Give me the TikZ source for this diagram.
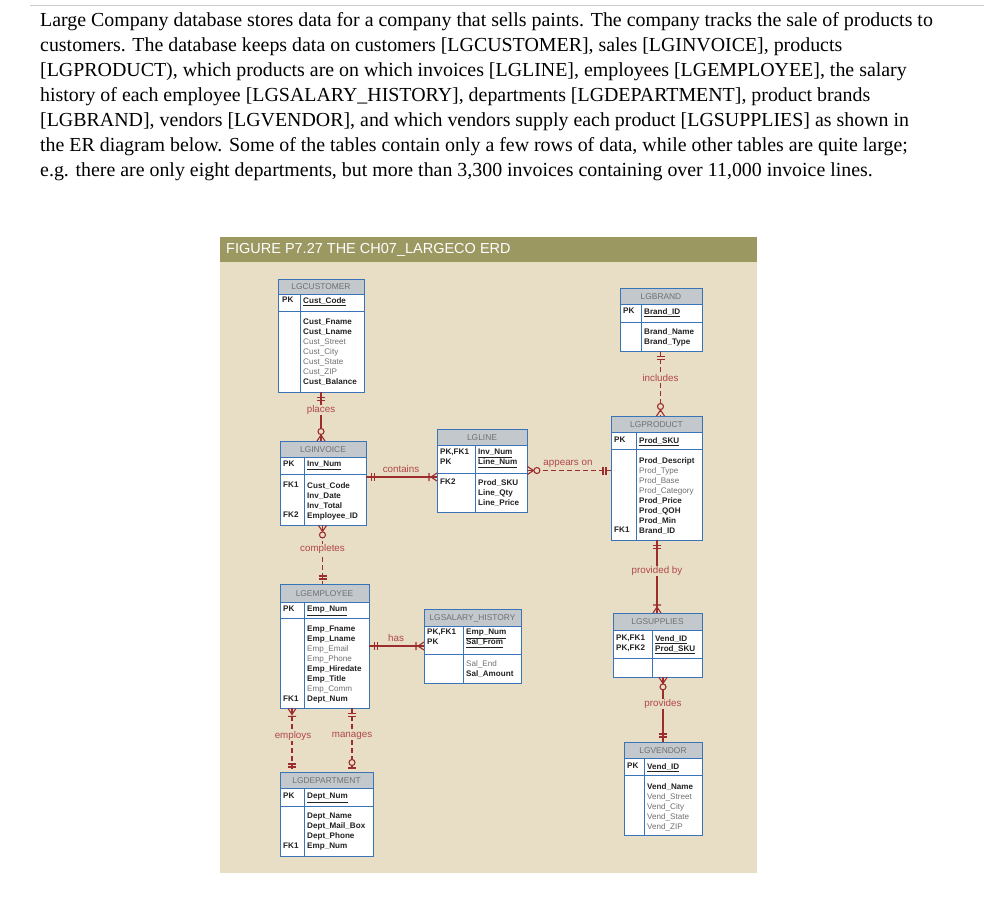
\documentclass[tikz,border=0pt]{standalone}
\usepackage{fontspec}
\setmainfont{Liberation Serif}
\setsansfont{Liberation Sans}
\begin{document}
\definecolor{bg}{HTML}{E8DDC5}
\definecolor{hbar}{HTML}{9C9862}
\definecolor{tblue}{HTML}{3A74B8}
\definecolor{thdr}{HTML}{C3C8CC}
\definecolor{rel}{HTML}{9B2D2D}
\definecolor{rlab}{HTML}{B0484A}
\definecolor{gry}{HTML}{707070}
\definecolor{txt}{HTML}{222222}
\begin{tikzpicture}[x=1pt,y=-1pt,
  para/.style={anchor=base west,inner sep=0,font=\fontsize{19.9}{22}\selectfont},
  cell/.style={anchor=north west,inner sep=0,align=left,text=txt,font=\sffamily\bfseries\fontsize{8.1}{10}\selectfont},
  ttl/.style={inner sep=0,text=gry,font=\sffamily\fontsize{8.4}{10}\selectfont},
  rl/.style={draw=rel,line width=1.1pt},
  dsh/.style={rl,dash pattern=on 5pt off 3pt},
  lab/.style={inner sep=0.6pt,fill=bg,text=rlab,font=\sffamily\fontsize{9.8}{11}\selectfont},
  mone/.pic={\draw[rl] (5,-4)--(5,4) (8,-4)--(8,4);},
  mmany/.pic={\draw[rl] (0,-4)--(6,0)--(0,4) (8,-4)--(8,4);},
  omany/.pic={\draw[rl] (0,-4)--(6,0)--(0,4); \draw[rl,fill=bg] (9.5,0) circle (3);},
  oone/.pic={\draw[rl] (4,-4)--(4,4); \draw[rl,fill=bg] (9.5,0) circle (3);}
]
\useasboundingbox (0,0) rectangle (984,898);
\fill[white] (0,0) rectangle (984,898);
\draw[gray!40] (30,5)--(984,5);
\node[para] (p1) at (40,26) {Large Company database stores data for a company that sells paints. The company tracks the sale of products to};
\node[para] (p2) at (40,51) {customers. The database keeps data on customers [LGCUSTOMER], sales [LGINVOICE], products};
\node[para] (p3) at (40,76) {[LGPRODUCT), which products are on which invoices [LGLINE], employees [LGEMPLOYEE], the salary};
\node[para] (p4) at (40,101) {history of each employee [LGSALARY\_HISTORY], departments [LGDEPARTMENT], product brands};
\node[para] (p5) at (40,126) {[LGBRAND], vendors [LGVENDOR], and which vendors supply each product [LGSUPPLIES] as shown in};
\node[para] (p6) at (40,151) {the ER diagram below. Some of the tables contain only a few rows of data, while other tables are quite large;};
\node[para] (p7) at (40,176) {e.g. there are only eight departments, but more than 3,300 invoices containing over 11,000 invoice lines.};
% panel
\fill[hbar] (220,237) rectangle (757,262);
\fill[bg] (220,262) rectangle (757,873);
\node[anchor=west,inner sep=0,text=white,font=\sffamily\fontsize{14.5}{16}\selectfont] (fig) at (226,249.5) {FIGURE P7.27 THE CH07\_LARGECO ERD};
% table macro: name,L,R,T,HB,PB,B,D,title
\newcommand\mytable[9]{%
  \fill[white] (#2,#4) rectangle (#3,#7);
  \fill[thdr] (#2,#4) rectangle (#3,#5);
  \node[inner sep=0,anchor=north west,minimum width={(#3-#2)*1pt},minimum height={(#7-#4)*1pt}] (#1) at (#2,#4) {};
  \draw[tblue,line width=1pt] (#2,#4) rectangle (#3,#7) (#2,#5)--(#3,#5) (#2,#6)--(#3,#6) (#8,#5)--(#8,#7);
  \node[ttl] (#1-t) at ({(#2+#3)/2},{(#4+#5)/2+0.5}) {#9};}
\newcommand\g[1]{{\mdseries\color{gry}#1}}
\newcommand\ul[1]{\underline{#1}}
\mytable{cust}{278}{364}{279}{294}{311}{392}{300}{LGCUSTOMER}
\node[cell] at (282,297) {PK};
\node[cell] at (303,297) {\ul{Cust\_Code}};
\node[cell] at (303,319) {Cust\_Fname\\Cust\_Lname\\\g{Cust\_Street}\\\g{Cust\_City}\\\g{Cust\_State}\\\g{Cust\_ZIP}\\Cust\_Balance};
\mytable{inv}{280}{366}{441}{457}{474}{525}{304}{LGINVOICE}
\node[cell] at (283,461) {PK};
\node[cell] at (307,461) {\ul{Inv\_Num}};
\node[cell] at (283,482) {FK1\\\\\\FK2};
\node[cell] at (307,482) {Cust\_Code\\Inv\_Date\\Inv\_Total\\Employee\_ID};
\mytable{line}{437}{527}{429}{445}{473}{512}{475}{LGLINE}
\node[cell] at (440,449) {PK,FK1\\PK};
\node[cell] at (478,449) {\ul{Inv\_Num}\\\ul{Line\_Num}};
\node[cell] at (440,479) {FK2};
\node[cell] at (478,479) {Prod\_SKU\\Line\_Qty\\Line\_Price};
\mytable{brand}{620}{702}{288}{304}{322}{351}{641}{LGBRAND}
\node[cell] at (623,308) {PK};
\node[cell] at (644,308) {\ul{Brand\_ID}};
\node[cell] at (644,328) {Brand\_Name\\Brand\_Type};
\mytable{prod}{611}{702}{416}{432}{449}{540}{636}{LGPRODUCT}
\node[cell] at (614,437) {PK};
\node[cell] at (639,437) {\ul{Prod\_SKU}};
\node[cell] at (614,527) {FK1};
\node[cell] at (639,457) {Prod\_Descript\\\g{Prod\_Type}\\\g{Prod\_Base}\\\g{Prod\_Category}\\Prod\_Price\\Prod\_QOH\\Prod\_Min\\Brand\_ID};
\mytable{emp}{280}{369}{584}{602}{618}{708}{304}{LGEMPLOYEE}
\node[cell] at (283,606) {PK};
\node[cell] at (307,606) {\ul{Emp\_Num}};
\node[cell] at (283,696) {FK1};
\node[cell] at (307,626) {Emp\_Fname\\Emp\_Lname\\\g{Emp\_Email}\\\g{Emp\_Phone}\\Emp\_Hiredate\\Emp\_Title\\\g{Emp\_Comm}\\Dept\_Num};
\mytable{sal}{424}{521}{609}{626}{654}{683}{463}{LGSALARY\_HISTORY}
\node[cell] at (427,629) {PK,FK1\\PK};
\node[cell] at (466,629) {\ul{Emp\_Num}\\\ul{Sal\_From}};
\node[cell] at (466,660) {\g{Sal\_End}\\Sal\_Amount};
\mytable{dept}{280}{373}{772}{788}{806}{856}{304}{LGDEPARTMENT}
\node[cell] at (283,793) {PK};
\node[cell] at (307,793) {\ul{Dept\_Num}};
\node[cell] at (283,843) {FK1};
\node[cell] at (307,813) {Dept\_Name\\Dept\_Mail\_Box\\Dept\_Phone\\Emp\_Num};
\mytable{sup}{613}{702}{613}{630}{658}{677}{652}{LGSUPPLIES}
\node[cell] at (616,635) {PK,FK1\\PK,FK2};
\node[cell] at (655,635) {\ul{Vend\_ID}\\\ul{Prod\_SKU}};
\mytable{vend}{624}{702}{742}{758}{775}{835}{644}{LGVENDOR}
\node[cell] at (627,763) {PK};
\node[cell] at (647,763) {\ul{Vend\_ID}};
\node[cell] at (647,783) {Vend\_Name\\\g{Vend\_Street}\\\g{Vend\_City}\\\g{Vend\_State}\\\g{Vend\_ZIP}};
% relationships
\draw[rl] (cust.south -| 321,0) -- (inv.north -| 321,0);
\node[lab] (lplaces) at (321,410) {places};
\pic[rotate=-90] at (cust.south -| 321,0) {mone};
\pic[rotate=90] at (inv.north -| 321,0) {omany};

\draw[rl] (inv.east |- 0,477) -- (line.west |- 0,477);
\node[lab,fill=none] (lcont) at (401,469) {contains};
\pic at (inv.east |- 0,477) {mone};
\pic[rotate=180] at (line.west |- 0,477) {mmany};

\draw[dsh] (line.east |- 0,470.5) -- (prod.west |- 0,470.5);
\node[lab] (lapp) at (568,464) {appears on};
\pic at (line.east |- 0,470.5) {omany};
\pic[rotate=180] at (prod.west |- 0,470.5) {mone};

\draw[dsh] (brand.south -| 660.5,0) -- (prod.north -| 660.5,0);
\node[lab] (linc) at (660.5,377.5) {includes};
\pic[rotate=-90] at (brand.south -| 660.5,0) {mone};
\pic[rotate=90] at (prod.north -| 660.5,0) {omany};

\draw[rl] (prod.south -| 657,0) -- (sup.north -| 657,0);
\node[lab] (lprov) at (657,571) {provided by};
\pic[rotate=-90] at (prod.south -| 657,0) {mone};
\pic[rotate=90] at (sup.north -| 657,0) {mmany};

\draw[rl] (sup.south -| 663,0) -- (vend.north -| 663,0);
\node[lab] (lprovs) at (663,704) {provides};
\pic[rotate=-90] at (sup.south -| 663,0) {omany};
\pic[rotate=90] at (vend.north -| 663,0) {mone};

\draw[dsh] (inv.south -| 322.5,0) -- (emp.north -| 322.5,0);
\node[lab] (lcomp) at (322.5,549) {completes};
\pic[rotate=-90] at (inv.south -| 322.5,0) {omany};
\pic[rotate=90] at (emp.north -| 322.5,0) {mone};

\draw[rl] (emp.east |- 0,646) -- (sal.west |- 0,646);
\node[lab,fill=none] (lhas) at (396,638) {has};
\pic at (emp.east |- 0,646) {mone};
\pic[rotate=180] at (sal.west |- 0,646) {mmany};

\draw[dsh] (emp.south -| 292,0) -- (dept.north -| 292,0);
\node[lab] (lemp) at (293,735.5) {employs};
\pic[rotate=-90] at (emp.south -| 292,0) {mmany};
\pic[rotate=90] at (dept.north -| 292,0) {mone};

\draw[dsh] (emp.south -| 352,0) -- (dept.north -| 352,0);
\node[lab] (lman) at (352,735.5) {manages};
\pic[rotate=-90] at (emp.south -| 352,0) {mone};
\pic[rotate=90] at (dept.north -| 352,0) {oone};
\end{tikzpicture}
\end{document}
